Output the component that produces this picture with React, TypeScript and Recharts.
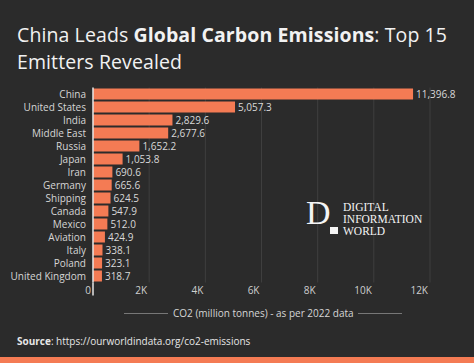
import { BarChart, Bar, XAxis, YAxis, CartesianGrid, LabelList } from 'recharts'

const countries = [
  'China', 'United States', 'India', 'Middle East', 'Russia', 'Japan', 'Iran', 'Germany',
  'Shipping', 'Canada', 'Mexico', 'Aviation', 'Italy', 'Poland', 'United Kingdom',
]
const emissions = [
  11396.8, 5057.3, 2829.6, 2677.6, 1652.2, 1053.8, 690.6, 665.6,
  624.5, 547.9, 512.0, 424.9, 338.1, 323.1, 318.7,
]
const xTicks = [0, 2000, 4000, 6000, 8000, 10000, 12000]

const data = countries.map((name, i) => ({ name, value: emissions[i] }))

const BG = '#2b2b2b'
const ORANGE = '#f47b54'
const FONT = '"Open Sans", sans-serif'

const fmt = (v: number) =>
  v.toLocaleString('en-US', { minimumFractionDigits: 1, maximumFractionDigits: 1 })

function XTick({ x, y, payload, index }: any) {
  const v = payload.value
  return (
    <g>
      {index === 0 && <line x1={x} x2={x} y1={y - 8} y2={y + 5} stroke="#e6e6e6" strokeWidth={1.5} />}
      <text x={x - 2} y={y + 3.5} textAnchor="end" fill="#cfcfcf" fontSize={10} fontFamily={FONT}>
        {v === 0 ? '0' : `${v / 1000}K`}
      </text>
    </g>
  )
}

function YTick({ x, y, payload }: any) {
  return (
    <text x={x} y={y + 3.5} textAnchor="end" fill="#d6d6d6" fontSize={10} fontFamily={FONT}>
      {payload.value}
    </text>
  )
}

export default function App() {
  return (
    <div style={{ position: 'absolute', left: 0, top: 0, width: 474, height: 363, background: BG, overflow: 'hidden', fontFamily: FONT }}>
      <div style={{ position: 'absolute', left: 17, top: 21, color: '#f2f2f2', fontSize: 19.5, letterSpacing: 0.1, lineHeight: '27px', whiteSpace: 'nowrap' }}>
        China Leads <b>Global Carbon Emissions</b>: Top 15<br />Emitters Revealed
      </div>

      <BarChart
        width={474}
        height={363}
        data={data}
        layout="vertical"
        margin={{ top: 87.5, right: 44, bottom: 52.5, left: 0 }}
        style={{ position: 'absolute', left: 0, top: 0 }}
      >
        <CartesianGrid horizontal={false} stroke="#3f3f3f" />
        <XAxis
          type="number"
          domain={[0, 12000]}
          ticks={xTicks}
          axisLine={false}
          tickLine={false}
          tick={<XTick />}
          height={28}
        />
        <YAxis
          type="category"
          dataKey="name"
          width={93}
          tickSize={5}
          tickLine={false}
          axisLine={{ stroke: '#e6e6e6', strokeWidth: 1.5 }}
          tick={<YTick />}
          interval={0}
        />
        <Bar dataKey="value" fill={ORANGE} barSize={11} isAnimationActive={false}>
          <LabelList dataKey="value" position="right" offset={3} formatter={(v: any) => fmt(Number(v))} fill="#d9d9d9" fontSize={10} fontFamily={FONT} />
        </Bar>
      </BarChart>

      <div style={{ position: 'absolute', left: 306, top: 196, color: '#f4f4f4', fontFamily: '"Liberation Serif", serif' }}>
        <div style={{ position: 'absolute', left: 0, top: 0, fontSize: 34, lineHeight: '34px' }}>D</div>
        <div style={{ position: 'absolute', left: 24, top: 31, width: 8, height: 7, background: '#f4f4f4' }} />
        <div style={{ position: 'absolute', left: 37, top: 5, fontSize: 11.5, lineHeight: '12px', whiteSpace: 'nowrap' }}>
          DIGITAL<br />INFORMATION<br />WORLD
        </div>
      </div>

      <div style={{ position: 'absolute', left: 124, top: 312.5, width: 44, height: 1, background: '#777' }} />
      <div style={{ position: 'absolute', left: 358, top: 312.5, width: 44, height: 1, background: '#777' }} />
      <div style={{ position: 'absolute', left: 173, width: 180, top: 306, textAlign: 'center', color: '#d6d6d6', fontSize: 10, lineHeight: '14px', whiteSpace: 'nowrap' }}>
        CO2 (million tonnes) - as per 2022 data
      </div>

      <div style={{ position: 'absolute', left: 17, top: 334, color: '#e6e6e6', fontSize: 10, lineHeight: '14px', whiteSpace: 'nowrap' }}>
        <b>Source</b>: https://ourworldindata.org/co2-emissions
      </div>

      <div style={{ position: 'absolute', left: 0, top: 357, width: 474, height: 6, background: ORANGE }} />
    </div>
  )
}
